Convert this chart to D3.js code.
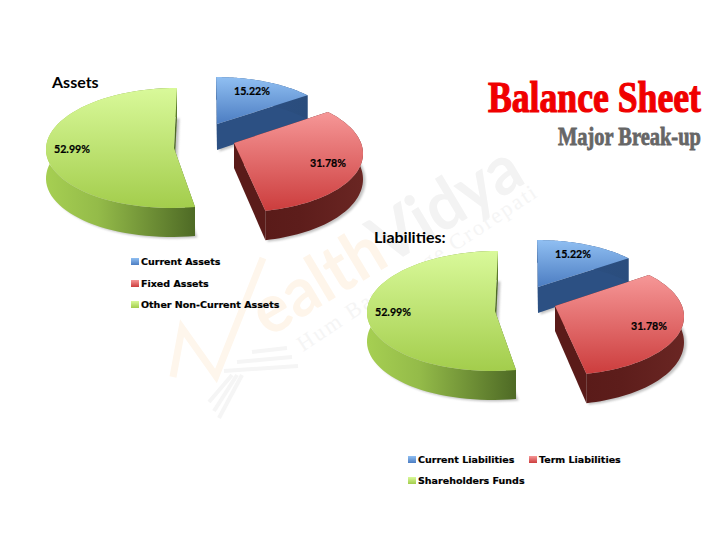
<!DOCTYPE html>
<html>
<head>
<meta charset="utf-8">
<script src="https://cdn.jsdelivr.net/npm/d3@7"></script>
<style>
  html, body { margin: 0; padding: 0; background: #fff; }
  svg { display: block; }
  .pct { font-family: Lato, sans-serif; font-weight: 700; font-size: 12px; text-anchor: middle; fill: #000; stroke: #000; stroke-width: 0.2px; }
  .head { font-family: Lato, sans-serif; font-weight: 700; font-size: 16px; fill: #000; }
  .leg { font-family: "DejaVu Sans", sans-serif; font-weight: 700; font-size: 9.5px; fill: #000; stroke: #000; stroke-width: 0.2px; }
</style>
</head>
<body>
<svg id="chart" width="720" height="540"></svg>
<script>
const assetCategories = ["Current Assets", "Fixed Assets", "Other Non-Current Assets"];
const assetShares = [15.22, 31.78, 52.99];
const liabilityCategories = ["Current Liabilities", "Term Liabilities", "Shareholders Funds"];
const liabilityShares = [15.22, 31.78, 52.99];

const svg = d3.select("#chart");
const defs = svg.append("defs");

// one look per wedge, the original is a perspective 3d pie so each has its own ellipse
const wedgeLook = [
  { ax: 217, ay: 124, rx: 121, ry: 54, p: 0.15, sh: 1, depth: 26, lx: 252, ly: 95,
    top: ["#90bff2", "#4c7dc2"], side: ["#2c5083", "#2a4d7d"] },
  { ax: 234, ay: 143, rx: 127, ry: 58.7, p: 0.152, sh: 3, depth: 25, lx: 328, ly: 167,
    top: ["#f69797", "#cc3d3d"], side: ["#5a1b19", "#6a2623"] },
  { ax: 174, ay: 148, rx: 128, ry: 60, p: 0, sh: -3, depth: 29, lx: 72, ly: 153,
    top: ["#d9f99a", "#a3cd4c"], side: ["#a6cf52", "#4e6a25"] }
];

wedgeLook.forEach((w, i) => {
  const t = defs.append("linearGradient").attr("id", "top" + i)
    .attr("x1", 0).attr("y1", 0).attr("x2", 0).attr("y2", 1);
  t.append("stop").attr("offset", 0).attr("stop-color", w.top[0]);
  t.append("stop").attr("offset", 1).attr("stop-color", w.top[1]);
  const s = defs.append("linearGradient").attr("id", "side" + i)
    .attr("x1", 0).attr("y1", 0).attr("x2", 1).attr("y2", 0);
  s.append("stop").attr("offset", 0).attr("stop-color", w.side[0]);
  s.append("stop").attr("offset", 0.35).attr("stop-color", d3.interpolateRgb(w.side[0], w.side[1])(0.2));
  s.append("stop").attr("offset", 1).attr("stop-color", w.side[1]);
});

const blur = defs.append("filter").attr("id", "soft")
  .attr("x", "-10%").attr("y", "-10%").attr("width", "120%").attr("height", "120%");
blur.append("feGaussianBlur").attr("stdDeviation", 1.3);

const ring = d3.line().curve(d3.curveLinearClosed);
const pie = d3.pie().sort(null).startAngle(0).endAngle(2 * Math.PI);

function project(w, angle, drop) {
  const u = Math.sin(angle), v = -Math.cos(angle);
  const k = 1 / (1 - w.p * v);
  return [w.ax + (w.rx * u + w.sh * v) * k, w.ay + w.ry * v * k + w.depth * k * drop];
}

function arcPoints(w, a0, a1, drop) {
  return d3.range(0, 61).map(i => project(w, a0 + (a1 - a0) * i / 60, drop));
}

function apex(w, drop) {
  return [w.ax, w.ay + w.depth * drop];
}

function drawWatermark() {
  const g = svg.append("g").attr("fill", "none").attr("stroke-linejoin", "miter");
  g.append("path").attr("d", "M173,377L182,328L216,376L263,258")
    .attr("stroke", "#fef6ec").attr("stroke-width", 7);
  [
    "M252,352L287,348",
    "M237,362L292,357",
    "M224,371L298,366",
    "M232,375L209,402",
    "M237,375L214,411",
    "M242,375L219,418"
  ].forEach(d => g.append("path").attr("d", d).attr("stroke", "#f5f5f5").attr("stroke-width", 4));

  const big = svg.append("text")
    .attr("transform", "translate(268,338) rotate(-31)")
    .attr("font-family", "Lato, sans-serif").attr("font-weight", 700)
    .attr("font-size", 68)
    .attr("textLength", 303).attr("lengthAdjust", "spacingAndGlyphs");
  big.append("tspan").attr("fill", "#fef5ea").text("ealth");
  big.append("tspan").attr("fill", "#f3f3f3").text("Vidya");

  svg.append("text")
    .attr("transform", "translate(303,352) rotate(-33.5)")
    .attr("font-family", "Liberation Serif, serif")
    .attr("font-size", 22).attr("fill", "#f5f5f5")
    .attr("textLength", 282).attr("lengthAdjust", "spacing")
    .text("Hum Banayenge Crorepati");
}

function drawPie(categories, shares, title, dx, dy, titlePos) {
  const g = svg.append("g").attr("transform", `translate(${dx},${dy})`);
  const slices = pie(shares);

  slices.forEach((s, i) => {
    const w = wedgeLook[i];
    const bottom = [apex(w, 1), ...arcPoints(w, s.startAngle, s.endAngle, 1)];
    const rim = [...arcPoints(w, s.startAngle, s.endAngle, 0), ...arcPoints(w, s.startAngle, s.endAngle, 1).reverse()];
    const wedge = g.append("g");

    // soft grey shadow under the wedge
    wedge.append("path")
      .attr("d", ring(bottom))
      .attr("transform", "translate(2.5,1.5)")
      .attr("fill", "#888").attr("opacity", 0.5)
      .attr("filter", "url(#soft)");

    // cut walls then the rim, the top face hides whatever faces away
    [s.startAngle, s.endAngle].forEach(a => {
      const p0 = apex(w, 0), p1 = project(w, a, 0), p2 = project(w, a, 1), p3 = apex(w, 1);
      wedge.append("path").attr("d", ring([p0, p1, p2, p3])).attr("fill", w.side[i === 2 ? 1 : 0]);
    });
    wedge.append("path").attr("d", ring(rim)).attr("fill", `url(#side${i})`);

    wedge.append("path")
      .attr("d", ring([apex(w, 0), ...arcPoints(w, s.startAngle, s.endAngle, 0)]))
      .attr("fill", `url(#top${i})`);

    wedge.append("text").attr("class", "pct")
      .attr("x", w.lx).attr("y", w.ly)
      .attr("textLength", 36).attr("lengthAdjust", "spacingAndGlyphs")
      .text(s.data.toFixed(2) + "%");
  });

  g.append("text").attr("class", "head")
    .attr("x", titlePos[0]).attr("y", titlePos[1]).text(title);
}

function drawLegend(categories, rows) {
  const item = svg.selectAll(null).data(categories).enter().append("g")
    .attr("transform", (d, i) => `translate(${rows[i][0]},${rows[i][1]})`);
  item.append("rect").attr("x", 0).attr("y", -7).attr("width", 8).attr("height", 7)
    .attr("fill", (d, i) => `url(#top${i})`);
  item.append("text").attr("class", "leg").attr("x", 10).attr("y", 0).text(d => d);
}

// squeezes a heading to the width it has in the original
function squeezedText(label, x, y, size, color, weight, width) {
  const t = svg.append("text")
    .attr("font-family", "Liberation Serif, serif").attr("font-weight", 700)
    .attr("font-size", size).attr("fill", color)
    .attr("stroke", color).attr("stroke-width", weight)
    .text(label);
  const sx = width / t.node().getComputedTextLength();
  t.attr("transform", `translate(${x},${y}) scale(${sx},1)`);
}

drawWatermark();
drawPie(assetCategories, assetShares, "Assets", 0, 0, [52, 88]);
drawPie(liabilityCategories, liabilityShares, "Liabilities:", 321, 163, [53, 80]);
drawLegend(assetCategories, [[131, 265], [131, 287], [131, 308]]);
drawLegend(liabilityCategories, [[408, 463], [529, 463], [408, 484]]);

squeezedText("Balance Sheet", 488, 112, 45, "#f00000", 1.2, 213);
squeezedText("Major Break-up", 558, 145, 26, "#666", 0.8, 143);
</script>
</body>
</html>
